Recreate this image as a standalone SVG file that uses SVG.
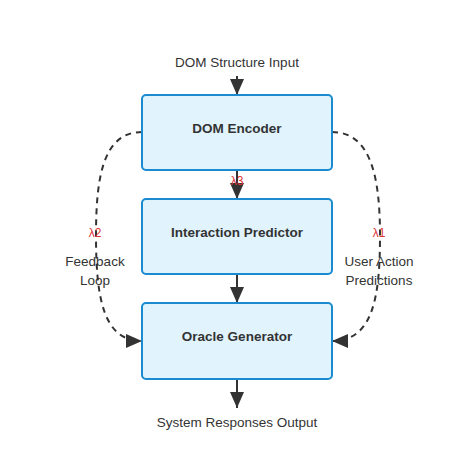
<svg xmlns="http://www.w3.org/2000/svg" width="474" height="474" viewBox="0 0 474 474">
<style>
.box{fill:#e1f4fd;stroke:#1a8bd0;stroke-width:2}
.nt{font-family:"Liberation Sans",Arial,sans-serif;font-size:13.5px;font-weight:bold;fill:#333;text-anchor:middle}
.lt{font-family:"Liberation Sans",Arial,sans-serif;font-size:13.5px;fill:#333;text-anchor:middle}
.lam{font-family:"Liberation Sans",Arial,sans-serif;font-size:12px;fill:#d33;text-anchor:middle}
.e{fill:none;stroke:#333;stroke-width:2}
.d{fill:none;stroke:#333;stroke-width:2;stroke-dasharray:6,5}
</style>
<defs>
<marker id="ah" viewBox="0 0 16 14" refX="16" refY="7" markerWidth="16" markerHeight="14" markerUnits="userSpaceOnUse" orient="auto">
<path d="M0,0 L16,7 L0,14 Z" fill="#333"/>
</marker>
</defs>
<rect width="474" height="474" fill="#fff"/>
<g id="connectors">
<path class="e" d="M237,76 L237,95" marker-end="url(#ah)"/>
<path class="e" d="M237,170 L237,199" marker-end="url(#ah)"/>
<path class="e" d="M237,274 L237,303" marker-end="url(#ah)"/>
<path class="e" d="M237,379 L237,408" marker-end="url(#ah)"/>
<path class="d" d="M142,132 C102,132 96,180 96,236 C96,300 104,341 142,341" marker-end="url(#ah)"/>
<path class="d" d="M332,132 C372,132 380,180 380,236 C380,300 372,341 332,341" marker-end="url(#ah)"/>
</g>
<g id="labels">
<text class="lt" x="237" y="67">DOM Structure Input</text>
<text class="lt" x="237" y="427">System Responses Output</text>
<text class="lam" x="237" y="185">λ3</text>
<text class="lam" x="95" y="237">λ2</text>
<text class="lam" x="379" y="237">λ1</text>
<text class="lt" x="95" y="266">Feedback</text>
<text class="lt" x="95" y="285">Loop</text>
<text class="lt" x="379" y="266">User Action</text>
<text class="lt" x="379" y="285">Predictions</text>
</g>
<g id="dom-encoder">
<rect class="box" x="142" y="95" width="190" height="75" rx="4"/>
<text class="nt" x="237" y="133">DOM Encoder</text>
</g>
<g id="interaction-predictor">
<rect class="box" x="142" y="199" width="190" height="75" rx="4"/>
<text class="nt" x="237" y="237">Interaction Predictor</text>
</g>
<g id="oracle-generator">
<rect class="box" x="142" y="303" width="190" height="76" rx="4"/>
<text class="nt" x="237" y="341">Oracle Generator</text>
</g>
</svg>
